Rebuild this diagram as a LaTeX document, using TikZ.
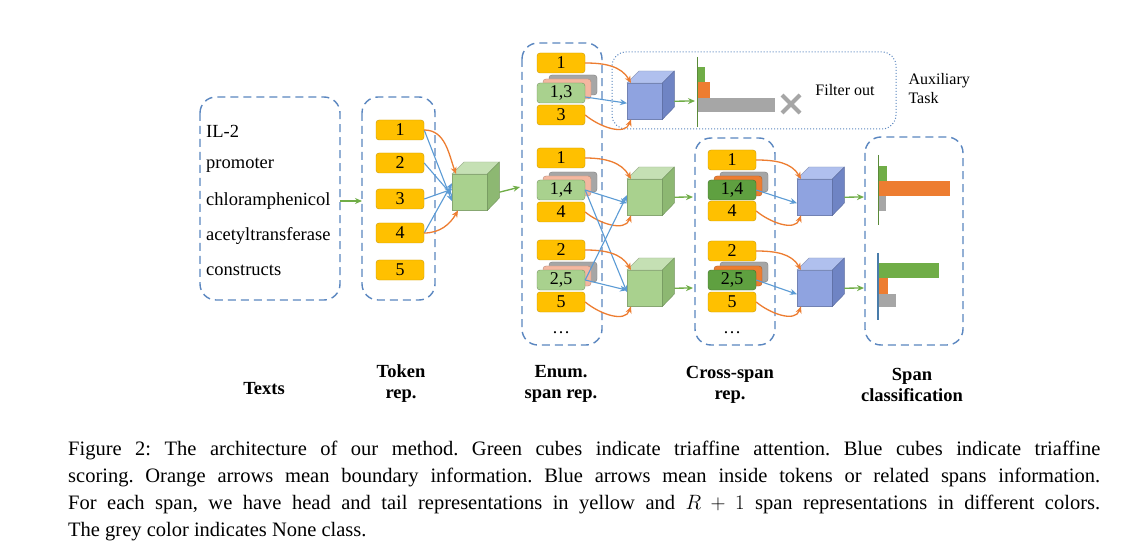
\documentclass[tikz,border=0pt]{standalone}
\usepackage{fontspec}
\setmainfont{Liberation Serif}
\usetikzlibrary{arrows.meta,calc}
\definecolor{yel}{HTML}{FFC000}
\definecolor{yeld}{HTML}{C99A06}
\definecolor{org}{HTML}{ED7D31}
\definecolor{blu}{HTML}{5B9BD5}
\definecolor{grn}{HTML}{70AD47}
\definecolor{dashc}{HTML}{5A86C0}
\definecolor{gf}{HTML}{A9D18E}\definecolor{gt}{HTML}{C5E0B4}\definecolor{gs}{HTML}{8DB872}
\definecolor{bf}{HTML}{8FA3E0}\definecolor{bt}{HTML}{B0C0EE}\definecolor{bs}{HTML}{6F84C4}
\definecolor{lg}{HTML}{A9D18E}\definecolor{dg}{HTML}{5FA040}
\definecolor{pink}{HTML}{F4B7A0}\definecolor{gry}{HTML}{A6A6A6}
\tikzset{
 x=1pt,y=-1pt,
 grp/.style={draw=dashc,line width=1.4pt,dash pattern=on 8pt off 5pt,rounded corners=16pt},
 tok/.style={draw=yeld,fill=yel,rounded corners=3pt,minimum width=48pt,minimum height=20pt,inner sep=0pt,font=\fontsize{18}{18}\selectfont},
 sp/.style={tok,draw=#1!70!black,fill=#1},
 bk/.style={draw=#1!75!black,fill=#1,rounded corners=3pt,minimum width=48pt,minimum height=20pt},
 cube/.style={minimum width=35pt,minimum height=36pt,inner sep=0pt},
 oa/.style={org,line width=1.3pt,-{Stealth[length=7pt,width=6pt]}},
 ba/.style={blu,line width=1.1pt,-{Stealth[length=7pt,width=6pt]}},
 ga/.style={grn,line width=1.3pt,-{Stealth[length=7pt,width=6pt]}},
 lab/.style={font=\fontsize{18.5}{21}\selectfont\bfseries,align=center},
 txt/.style={font=\fontsize{18.5}{18.5}\selectfont,anchor=west,inner sep=1pt},
}
\newcommand{\mycube}[5]{% name, x, y (front top-left), front, top/side prefix
 \node[cube,fill=#4,draw=#4!80!black,anchor=north west] (#1) at (#2,#3) {};
 \fill[#5t,draw=#5t!80!black] (#1.north west) -- ++(12,-12) -- ++(35,0) -- (#1.north east) -- cycle;
 \fill[#5s,draw=#5s!80!black] (#1.north east) -- ++(12,-12) -- ++(0,36) -- (#1.south east) -- cycle;
}
\begin{document}
\begin{tikzpicture}
\path[use as bounding box,fill=white] (0,0) rectangle (1122,548);
% group boxes
\draw[grp] (200,97) rectangle (340,300);
\draw[grp] (362,97) rectangle (435,300);
\draw[grp] (522,43) rectangle (602,345);
\draw[grp] (695,138) rectangle (775,345);
\draw[grp] (865,137) rectangle (963,345);
\draw[dashc,line width=1pt,dotted,rounded corners=14pt] (612,52) rectangle (896,129);
% texts
\node[txt] (t1) at (205,131) {IL-2};
\node[txt] (t2) at (205,165) {promoter};
\node[txt] (t3) at (205,201) {chloramphenicol};
\node[txt] (t4) at (205,236) {acetyltransferase};
\node[txt] (t5) at (205,270) {constructs};
% tokens
\foreach \i/\y in {1/130,2/163,3/199,4/233,5/270} \node[tok] (k\i) at (400,\y) {\i};
\mycube{c0}{452}{174}{gf}{g}
\draw[ga] (340,201) -- (362,201);
\draw[ga] (c0.east) ++(12,0) coordinate (c0e) -- (520,187);
\foreach \i in {1,2,3,4} \draw[ba] (k\i.east) -- ([yshift=(\i-2.5)*6pt]c0.west);
\draw[oa] (k1.east) to[out=0,in=110] ([xshift=4pt]c0.north west);
\draw[oa] (k4.east) to[out=0,in=-120] ([xshift=6pt]c0.south west);
% enum groups
\node[bk=gry] at (573,85) {};
\node[bk=pink] at (567,89) {};
\node[sp=lg] (s13) at (561,93) {1,3};
\node[tok] (e1) at (561,63) {1};
\node[tok] (e3) at (561,115) {3};
\node[bk=gry] at (573,182) {};
\node[bk=pink] at (567,186) {};
\node[sp=lg] (s14) at (561,190) {1,4};
\node[tok] (e1b) at (561,158) {1};
\node[tok] (e4) at (561,212) {4};
\node[bk=gry] at (573,272) {};
\node[bk=pink] at (567,276) {};
\node[sp=lg] (s25) at (561,280) {2,5};
\node[tok] (e2) at (561,250) {2};
\node[tok] (e5) at (561,302) {5};
\node[font=\fontsize{18}{18}\selectfont] (d1) at (561,333) {\dots};
% cubes
\mycube{cb}{627}{83}{bf}{b}
\mycube{cg1}{627}{179}{gf}{g}
\mycube{cg2}{627}{270}{gf}{g}
\draw[oa] (e1.east) to[out=0,in=120] ([xshift=4pt]cb.north west);
\draw[oa] (e3.east) to[out=-40,in=-110] ([xshift=4pt]cb.south west);
\draw[ba] ([yshift=-4pt]s13.east) -- ([yshift=-2pt]cb.west);
\draw[oa] (e1b.east) to[out=0,in=120] ([xshift=4pt]cg1.north west);
\draw[oa] (e4.east) to[out=-40,in=-110] ([xshift=4pt]cg1.south west);
\draw[ba] (s14.east) -- ([yshift=-6pt]cg1.west);
\draw[ba] (s14.east) -- ([yshift=-4pt]cg2.west);
\draw[oa] (e2.east) to[out=0,in=120] ([xshift=4pt]cg2.north west);
\draw[oa] (e5.east) to[out=-40,in=-110] ([xshift=4pt]cg2.south west);
\draw[ba] (s25.east) -- ([yshift=-2pt]cg2.west);
\draw[ba] (s25.east) -- ([yshift=2pt]cg1.west);
% aux bars
\fill[grn] (697,67) rectangle (705,82);
\fill[org] (697,82) rectangle (710,98);
\fill[gry] (697,98) rectangle (775,112);
\draw[grn!80!black,line width=1pt] (697,57) -- (697,127);
\draw[ga] ([xshift=12pt]cb.east) coordinate (cbe) -- (695,101);
\coordinate (x) at (791,104);
\draw[gry,line width=4pt] ($(x)+(-9,-9)$) -- ($(x)+(9,9)$) ($(x)+(-9,9)$) -- ($(x)+(9,-9)$);
\node[font=\fontsize{16}{16}\selectfont] (fo) at (845,90) {Filter out};
\node[font=\fontsize{16}{19}\selectfont,align=left,anchor=north west] (aux) at (905,70) {Auxiliary\\Task};
% cross span
\draw[ga] ([xshift=12pt]cg1.east) coordinate (g1e) -- (693,197);
\draw[ga] ([xshift=12pt]cg2.east) coordinate (g2e) -- (693,288);
\node[bk=gry] at (744,182) {};
\node[bk=org] at (738,186) {};
\node[sp=dg] (x14) at (732,190) {1,4};
\node[tok] (x1) at (732,160) {1};
\node[tok] (x4) at (732,211) {4};
\node[bk=gry] at (744,272) {};
\node[bk=org] at (738,276) {};
\node[sp=dg] (x25) at (732,280) {2,5};
\node[tok] (x2) at (732,251) {2};
\node[tok] (x5) at (732,302) {5};
\node[font=\fontsize{18}{18}\selectfont] (d2) at (732,333) {\dots};
\mycube{cb1}{797}{179}{bf}{b}
\mycube{cb2}{797}{270}{bf}{b}
\draw[oa] (x1.east) to[out=0,in=120] ([xshift=4pt]cb1.north west);
\draw[oa] (x4.east) to[out=-40,in=-110] ([xshift=4pt]cb1.south west);
\draw[ba] (x14.east) -- ([yshift=-6pt]cb1.west);
\draw[oa] (x2.east) to[out=0,in=120] ([xshift=4pt]cb2.north west);
\draw[oa] (x5.east) to[out=-40,in=-110] ([xshift=4pt]cb2.south west);
\draw[ba] (x25.east) -- ([yshift=-6pt]cb2.west);
\draw[ga] ([xshift=12pt]cb1.east) coordinate (b1e) -- (864,197);
\draw[ga] ([xshift=12pt]cb2.east) coordinate (b2e) -- (864,288);
% span bars
\fill[grn] (878,166) rectangle (887,181);
\fill[org] (878,181) rectangle (950,196);
\fill[gry] (878,196) rectangle (886,211);
\draw[grn!80!black,line width=1pt] (878,155) -- (878,225);
\fill[grn] (878,263) rectangle (939,278);
\fill[org] (878,278) rectangle (888,294);
\fill[gry] (878,294) rectangle (896,307);
\draw[blu!80!black,line width=1.4pt] (878,253) -- (878,320);
% labels
\node[lab] (l1) at (264,389) {Texts};
\node[lab] (l2) at (401,384) {Token\\rep.};
\node[lab] (l3) at (561,384) {Enum.\\span rep.};
\node[lab] (l4) at (730,385) {Cross-span\\rep.};
\node[lab] (l5) at (912,385) {Span\\classification};
% caption
\node[anchor=north west,inner sep=0pt,text width=1032pt,font=\fontsize{20.5}{27}\selectfont\frenchspacing,align=justify] (cap) at (68,441) {Figure 2: The architecture of our method. Green cubes indicate triaffine attention. Blue cubes indicate triaffine\linebreak scoring. Orange arrows mean boundary information. Blue arrows mean inside tokens or related spans information.\linebreak For each span, we have head and tail representations in yellow and $R+1$ span representations in different colors.\linebreak The grey color indicates None class.};
\end{tikzpicture}
\end{document}
